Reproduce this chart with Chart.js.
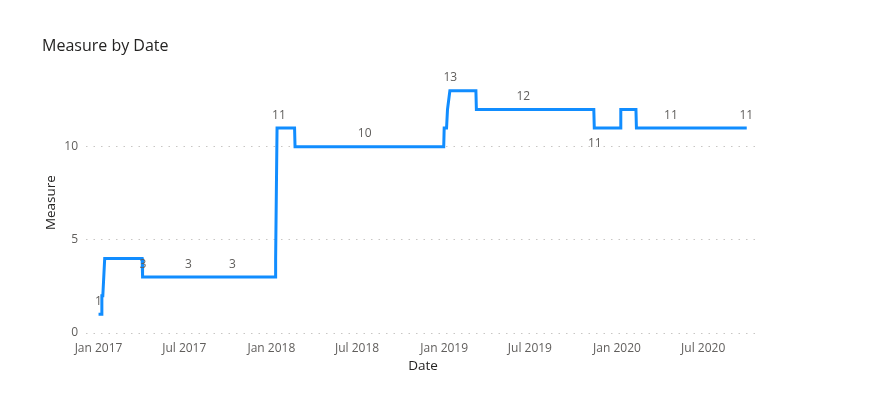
<!DOCTYPE html>
<html><head><meta charset="utf-8">
<script src="https://cdn.jsdelivr.net/npm/chart.js@4.4.1/dist/chart.umd.min.js"></script>
<style>html,body{margin:0;padding:0;background:#fff;}#wrap{width:884px;height:401px;position:relative;}</style>
</head><body><div id="wrap"><canvas id="c"></canvas></div>
<script>
const pointDates = ['2017-01-01','2017-01-07','2017-01-08','2017-01-10','2017-01-14','2017-04-03','2017-04-04',
  '2018-01-09','2018-01-10','2018-01-13','2018-02-19','2018-02-20','2018-12-31','2019-01-01','2019-01-06',
  '2019-01-08','2019-01-09','2019-01-13','2019-03-09','2019-03-10','2019-11-13','2019-11-14','2020-01-08',
  '2020-01-09','2020-02-10','2020-02-11','2020-10-01'];
const pointValues = [1,1,2,2,4,4,3, 3,4,11,11,10,10,11,11, 12,12,13,13,12,12,11,11, 12,12,11,11];
const labelDates = ['2017-01-01','2017-04-05','2017-07-10','2017-10-11','2018-01-17','2018-07-17',
  '2019-01-14','2019-06-17','2019-11-15','2020-04-24','2020-09-30'];
const labelBelow = ['2019-11-15'];
const tickDates = ['2017-01-01','2017-07-01','2018-01-01','2018-07-01','2019-01-01','2019-07-01','2020-01-01','2020-07-01'];
const tickLabels = ['Jan 2017','Jul 2017','Jan 2018','Jul 2018','Jan 2019','Jul 2019','Jan 2020','Jul 2020'];
const yTicks = [0,5,10];

const BASE = Date.UTC(2017,0,1);
function dayOf(s){const p=s.split('-').map(Number);return (Date.UTC(p[0],p[1]-1,p[2])-BASE)/864e5;}
const points = pointDates.map((d,i)=>({x:dayOf(d),y:pointValues[i]}));
const tickDays = tickDates.map(dayOf);
function valueAt(day){let v=points[0].y;for(const p of points){if(p.x<=day)v=p.y;}return v;}

const FONT = "'Open Sans', 'Noto Sans', sans-serif";

const dataLabels = {
  id:'dataLabels',
  afterDatasetsDraw(chart){
    const ctx=chart.ctx, xs=chart.scales.x, ys=chart.scales.y;
    ctx.save();
    ctx.font = "12px " + FONT;
    ctx.fillStyle = '#605E5C';
    ctx.textAlign='center'; ctx.textBaseline='middle';
    labelDates.forEach(d=>{
      const day=dayOf(d), v=valueAt(day);
      const px=xs.getPixelForValue(day), py=ys.getPixelForValue(v);
      const below = labelBelow.includes(d);
      ctx.fillText(String(v), px, below ? py+15 : py-13);
    });
    ctx.restore();
  }
};

new Chart(document.getElementById('c'), {
  type:'line',
  data:{datasets:[{data:points,borderColor:'#118DFF',borderWidth:3,pointRadius:0,tension:0,fill:false,borderJoinStyle:'miter'}]},
  options:{
    responsive:true, maintainAspectRatio:false, animation:false,
    layout:{padding:{left:42,right:124,top:0,bottom:23}},
    plugins:{
      legend:{display:false}, tooltip:{enabled:false},
      title:{display:true,text:'Measure by Date',align:'start',color:'#252423',
        font:{family:FONT,size:16,weight:'normal'},padding:{top:37,bottom:16}}
    },
    scales:{
      x:{type:'linear',min:-26.5,max:1397,
        grid:{display:false},border:{display:false},
        afterBuildTicks(s){s.ticks=tickDays.map(v=>({value:v}));},
        afterFit(s){s.height=45;},
        ticks:{autoSkip:false,maxRotation:0,padding:0,color:'#605E5C',font:{family:FONT,size:12},
          callback(v){const i=tickDays.indexOf(v);return i>=0?tickLabels[i]:'';}},
        title:{display:true,text:'Date',color:'#252423',font:{family:FONT,size:13.5},padding:{top:2,bottom:4}}
      },
      y:{min:0,max:14,
        grid:{color:'#C8C6C4',lineWidth:1,drawTicks:false},
        border:{display:false,dash:[1.5,6]},
        afterBuildTicks(s){s.ticks=yTicks.map(v=>({value:v}));},
        afterFit(s){s.width=44;},
        ticks:{padding:8,color:'#605E5C',font:{family:FONT,size:12}},
        title:{display:true,text:'Measure',color:'#252423',font:{family:FONT,size:13.5},padding:{top:1,bottom:1}}
      }
    }
  },
  plugins:[dataLabels]
});
</script></body></html>
